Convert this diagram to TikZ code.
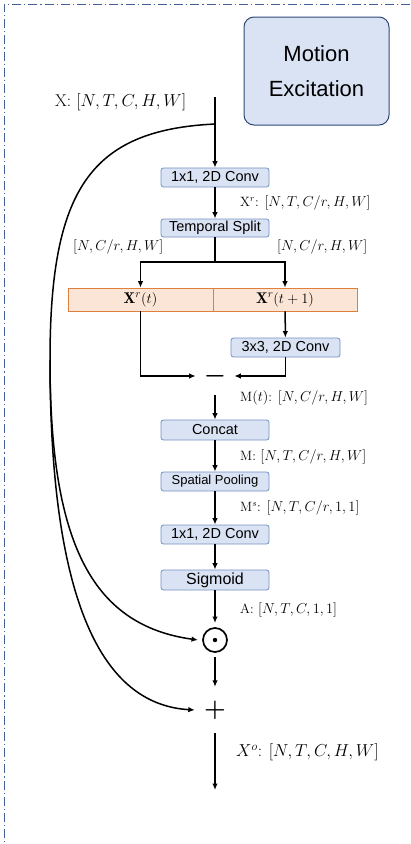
\documentclass[tikz,border=0pt]{standalone}
\usepackage{amsmath}
\usepackage{amssymb}
\usepackage{fontspec}
\newfontfamily\arial{Liberation Sans}
\usetikzlibrary{arrows.meta}
\definecolor{boxfill}{RGB}{218,227,243}
\definecolor{boxline}{RGB}{114,144,196}
\definecolor{titleline}{RGB}{47,72,118}
\definecolor{splitfill}{RGB}{251,229,214}
\definecolor{splitline}{RGB}{224,128,60}
\definecolor{frameline}{RGB}{68,95,150}

\begin{document}
\begin{tikzpicture}[x=1pt,y=-1pt,
        blk/.style={draw=boxline, fill=boxfill, rounded corners=2.5pt, line width=0.8pt,
            minimum width=108pt, minimum height=19pt, inner sep=0pt,
            font=\arial\fontsize{14.5}{16}\selectfont},
        half/.style={draw=splitline, fill=splitfill, line width=0.8pt,
            minimum height=23pt, inner sep=0pt, font=\fontsize{15.5}{17}\selectfont},
        lbl/.style={anchor=west, inner sep=0pt, font=\fontsize{13.5}{15}\selectfont},
        arr/.style={-{Latex[length=6.5pt,width=5.5pt]}, line width=1.5pt},
        wire/.style={line width=1.5pt}]
        \useasboundingbox (0,0) rectangle (410,844);
        % frame
        \draw[frameline, line width=0.9pt, dash pattern=on 9pt off 3pt on 1.2pt off 3pt] (410,4) -- (4,4) -- (4,844);
        \node[draw=titleline, fill=boxfill, rounded corners=10pt, line width=1pt,
            minimum width=145pt, minimum height=108pt, align=center,
            font=\arial\fontsize{22}{35}\selectfont] (title) at (316.5,71) {Motion\\Excitation};
        % blocks
        \node[blk] (conva) at (215,177.5) {1x1, 2D Conv};
        \node[blk, minimum height=18pt] (split) at (215,228) {Temporal Split};
        \node[half, minimum width=145pt] (xt) at (140.5,299.5) {$\mathbf{X}^r(t)$};
        \node[half, minimum width=144pt] (xtt) at (285,299.5) {$\mathbf{X}^r(t+1)$};
        \node[blk, minimum width=109pt] (convb) at (285.5,347.5) {3x3, 2D Conv};
        \node[inner xsep=8pt, minimum height=38pt, font=\fontsize{26}{26}\selectfont\boldmath] (minus) at (215,376) {$-$};
        \node[blk, minimum height=20pt] (concat) at (215,430) {Concat};
        \node[blk, font=\arial\fontsize{13}{15}\selectfont] (pool) at (215,481.5) {Spatial Pooling};
        \node[blk] (convc) at (215,534.5) {1x1, 2D Conv};
        \node[blk, minimum height=20pt, font=\arial\fontsize{16}{18}\selectfont] (sigm) at (215,580) {Sigmoid};
        \node[circle, draw, line width=1.7pt, minimum size=24pt, inner sep=0pt, outer sep=5pt] (odot) at (215,640) {};
        \fill (odot.center) circle (2.2pt);
        \node[minimum width=40pt, minimum height=46pt, inner sep=0pt, font=\fontsize{28}{28}\selectfont\boldmath] (plus) at (215,710) {$+$};
        \coordinate (top) at (215,97);
        \coordinate (branch) at (215,124);
        \coordinate (fork) at (215,262);
        \coordinate (bend) at (50,360);
        \coordinate (out) at (215,790);
        % labels
        \node[lbl, font=\fontsize{17}{19}\selectfont] (xlab) at (55,102) {X: $[N,T,C,H,W]$};
        \node[lbl] (xrlab) at (240,203) {$\mathrm{X}^r$: $[N,T,C/r,H,W]$};
        \node[lbl] (llab) at (73,247) {$[N,C/r,H,W]$};
        \node[lbl] (rlab) at (277,247) {$[N,C/r,H,W]$};
        \node[lbl] (mtlab) at (240,398) {$\mathrm{M}(t)$: $[N,C/r,H,W]$};
        \node[lbl] (mlab) at (240,457) {M: $[N,T,C/r,H,W]$};
        \node[lbl] (mslab) at (240,508) {$\mathrm{M}^s$: $[N,T,C/r,1,1]$};
        \node[lbl] (alab) at (240,610) {A: $[N,T,C,1,1]$};
        \node[lbl, font=\fontsize{17}{19}\selectfont] (xolab) at (236,752) {$X^o$: $[N,T,C,H,W]$};
        % connectors
        \draw[arr] (top) -- (conva);
        \draw[arr] (conva) -- (split);
        \draw[wire] (split) -- (fork);
        \draw[arr] (fork) -| (xt);
        \draw[arr] (fork) -| (xtt);
        \draw[arr] (xt) |- (minus);
        \draw[arr] (xtt) -- (convb);
        \draw[arr] (convb) |- (minus);
        \draw[arr] (minus) -- (concat);
        \draw[arr] (concat) -- (pool);
        \draw[arr] (pool) -- (convc);
        \draw[arr] (convc) -- (sigm);
        \draw[arr] (sigm) -- (odot);
        \draw[arr] (odot) -- (plus);
        \draw[arr] (plus) -- (out);
        % skip paths
        \draw[wire] (branch) .. controls (90,130) and (50,190) .. (bend);
        \draw[arr] (bend) .. controls (50,540) and (90,625) .. (odot.west);
        \draw[arr] (bend) .. controls (50,620) and (110,705) .. (plus.west);
    \end{tikzpicture}
\end{document}
